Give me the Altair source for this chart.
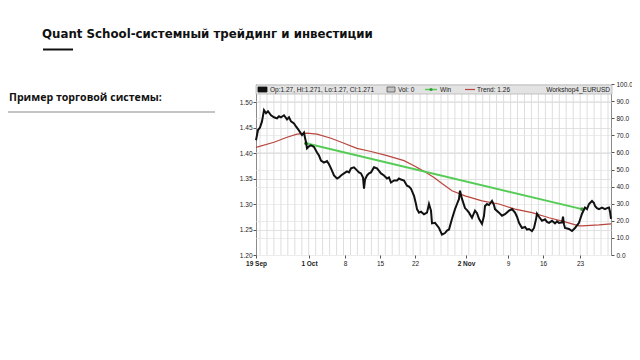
import altair as alt
import pandas as pd

title_text = "Quant School-системный трейдинг и инвестиции"
subtitle_text = "Пример торговой системы:"
legend_texts = ["Op:1.27, Hi:1.271, Lo:1.27, Cl:1.271", "Vol: 0", "Win", "Trend: 1.26", "Workshop4_EURUSD"]

# bar index (x) and EURUSD price
price_t = [0, 2, 4, 6, 8, 10, 12, 15, 18, 21, 23, 25, 28, 31, 33, 35, 38, 40, 42, 44, 46, 48, 49, 50, 51,
           53, 55, 58, 61, 63, 65, 68, 71, 73, 75, 78, 81, 83, 85, 88, 91, 93, 95, 98, 101, 103, 105, 107,
           108, 109, 111, 113, 115, 118, 121, 123, 125, 128, 131, 133, 135, 138, 141, 143, 145, 148, 151,
           153, 155, 158, 160, 161, 163, 165, 168, 171, 173, 175, 176, 179, 181, 183, 186, 189, 191, 193,
           196, 199, 201, 203, 204, 206, 209, 211, 213, 216, 219, 221, 223, 226, 228, 229, 231, 233, 236,
           238, 239, 243, 246, 249, 253, 256, 259, 261, 263, 266, 269, 271, 273, 276, 278, 280, 281, 283,
           286, 289, 291, 293, 296, 299, 301, 303, 306, 307, 308, 309, 313, 316, 319, 321, 323, 326, 329,
           331, 333, 336, 338, 339, 341, 343, 346, 349, 351, 353, 354, 355]
price_v = [1.425, 1.445, 1.450, 1.462, 1.484, 1.478, 1.482, 1.474, 1.470, 1.468, 1.472, 1.470, 1.474, 1.466,
           1.470, 1.462, 1.458, 1.452, 1.447, 1.441, 1.435, 1.440, 1.430, 1.421, 1.409,
           1.413, 1.415, 1.412, 1.401, 1.395, 1.385, 1.381, 1.384, 1.378, 1.370, 1.356, 1.350, 1.352, 1.356,
           1.360, 1.364, 1.362, 1.370, 1.372, 1.366, 1.362, 1.360, 1.352,
           1.330, 1.348, 1.356, 1.360, 1.362, 1.372, 1.370, 1.365, 1.360, 1.356, 1.350, 1.352, 1.342, 1.346,
           1.346, 1.350, 1.348, 1.346, 1.336,
           1.334, 1.330, 1.316, 1.300, 1.290, 1.283, 1.285, 1.280, 1.283, 1.300, 1.287, 1.262, 1.263, 1.258,
           1.253, 1.240, 1.243, 1.248, 1.250,
           1.271, 1.290, 1.300, 1.310, 1.326, 1.310, 1.292, 1.288, 1.283, 1.273, 1.287, 1.282, 1.271, 1.261,
           1.277, 1.296, 1.300, 1.298, 1.306,
           1.298, 1.290, 1.283, 1.277, 1.280, 1.287, 1.290, 1.283, 1.275, 1.263, 1.253, 1.255, 1.250, 1.251,
           1.247, 1.253, 1.270, 1.281, 1.275,
           1.267, 1.270, 1.265, 1.263, 1.267, 1.262, 1.266, 1.263, 1.264, 1.275, 1.260, 1.253, 1.251, 1.247,
           1.253, 1.258, 1.263, 1.281, 1.293,
           1.290, 1.300, 1.306, 1.302, 1.296, 1.292, 1.290, 1.293, 1.290, 1.292, 1.293, 1.285, 1.271]

trend_t = [0, 18, 31, 41, 51, 61, 75, 88, 101, 115, 131, 148, 158, 168, 178, 186, 196, 209, 226, 243, 259,
           276, 293, 309, 323, 326, 343, 355]
trend_v = [1.411, 1.421, 1.431, 1.437, 1.439, 1.437, 1.429, 1.419, 1.409, 1.403, 1.395, 1.385, 1.375, 1.364,
           1.352, 1.340, 1.326, 1.316, 1.306, 1.300, 1.290, 1.283, 1.273, 1.265, 1.257, 1.257, 1.259, 1.261]

win_t = [50, 326]
win_v = [1.419, 1.290]

tick_pos = [0, 53, 89, 124, 159, 210, 252, 287, 324]
tick_labels = ["19 Sep", "1 Oct", "8", "15", "22", "2 Nov", "9", "16", "23"]
price_ticks = [1.20, 1.25, 1.30, 1.35, 1.40, 1.45, 1.50]
right_ticks = [0, 10, 20, 30, 40, 50, 60, 70, 80, 90, 100]
day_lines = [round(4 + 6.96 * i, 1) for i in range(51)]

label_expr = " : ".join(f"datum.value == {p} ? '{l}'" for p, l in zip(tick_pos, tick_labels)) + " : ''"
bold_test = " || ".join(f"datum.value == {p}" for p, l in zip(tick_pos, tick_labels) if " " in l)

AX = dict(labelFont="Liberation Sans", labelFontSize=6.5, labelColor="#222", tickColor="#555",
          tickSize=3, domain=False, title=None)

X = alt.X("t:Q", scale=alt.Scale(domain=[0, 355], nice=False, zero=False),
          axis=alt.Axis(values=tick_pos, labelExpr=label_expr, grid=False, labelPadding=2,
                        labelFlush=False, labelOverlap=False,
                        labelFontWeight={"condition": {"test": bold_test, "value": "bold"}, "value": "normal"},
                        **AX))
Y = alt.Y("p:Q", scale=alt.Scale(domain=[1.20, 1.5353], nice=False, zero=False),
          axis=alt.Axis(values=price_ticks, format=".2f", grid=True, gridColor="#e2e2e2",
                        labelPadding=1, **AX))

price_df = pd.DataFrame({"t": price_t, "p": price_v})
trend_df = pd.DataFrame({"t": trend_t, "p": trend_v})
win_df = pd.DataFrame({"t": win_t, "p": win_v})
grid_df = pd.DataFrame({"t": day_lines})

grid = alt.Chart(grid_df).mark_rule(color="#dedede", strokeWidth=1).encode(x=X)
trend = alt.Chart(trend_df).mark_line(color="#b8463e", strokeWidth=1.2).encode(x=X, y=Y)
win = alt.Chart(win_df).mark_line(color="#55cc55", strokeWidth=2).encode(x=X, y=Y)
win_pts = alt.Chart(win_df).mark_point(filled=True, size=14, color="#3b9a3b", opacity=1).encode(x=X, y=Y)
price = alt.Chart(price_df).mark_line(color="#111", strokeWidth=2, strokeJoin="miter").encode(x=X, y=Y)

inner = alt.layer(grid, trend, win, win_pts, price)

right = alt.Chart(pd.DataFrame({"r": [0, 100]})).mark_point(opacity=0).encode(
    y=alt.Y("r:Q", scale=alt.Scale(domain=[0, 100], nice=False, zero=False),
            axis=alt.Axis(orient="right", values=right_ticks, format=".1f", grid=True,
                          gridColor="#ececec", labelPadding=2, **AX)))

one = pd.DataFrame({"k": [0]})


def txt(s, x, y, size, weight="normal", font="Liberation Sans", color="#222", align="left"):
    return alt.Chart(pd.DataFrame({"s": [s]})).mark_text(
        align=align, baseline="middle", font=font, fontSize=size, fontWeight=weight, color=color
    ).encode(x=alt.value(x), y=alt.value(y), text="s:N")


def hline(x1, x2, y, color, w):
    return alt.Chart(one).mark_rule(color=color, strokeWidth=w).encode(
        x=alt.value(x1), x2=alt.value(x2), y=alt.value(y))


def box(x1, x2, y1, y2, fill, stroke, sw=0.8):
    return alt.Chart(one).mark_rect(fill=fill, stroke=stroke, strokeWidth=sw).encode(
        x=alt.value(x1), x2=alt.value(x2), y=alt.value(y1), y2=alt.value(y2))


title = txt(title_text, -214, -50, 11.8, "bold", "DejaVu Sans", "#111")
title_bar = hline(-213, -183, -34.5, "#111", 2)
subtitle = txt(subtitle_text, -247, 13.5, 10.6, "bold", "Open Sans", "#111")
sub_line = hline(-254, -41, 28, "#8a8a8a", 1.2)

header = box(0, 356, 1, 10, "#e3e3e3", "#b5b5b5")
icon_op = box(2, 11, 3, 8, "#111", "#111")
icon_vol = box(131, 139, 3, 8, "#c4c4c4", "#555")
icon_win = hline(169, 181, 5.5, "#55cc55", 1.5)
icon_win_dot = alt.Chart(one).mark_point(filled=True, size=10, color="#3b9a3b", opacity=1).encode(
    x=alt.value(175), y=alt.value(5.5))
icon_trend = hline(209, 219, 5.5, "#b8463e", 1.2)
t_op = txt(legend_texts[0], 14, 5.5, 6.5)
t_vol = txt(legend_texts[1], 142, 5.5, 6.5)
t_win = txt(legend_texts[2], 184, 5.5, 6.5)
t_trend = txt(legend_texts[3], 221, 5.5, 6.5)
t_ws = txt(legend_texts[4], 354, 5.5, 6.5, align="right")

chart = alt.layer(
    inner, right,
    header, icon_op, icon_vol, icon_win, icon_win_dot, icon_trend,
    t_op, t_vol, t_win, t_trend, t_ws,
    title, title_bar, subtitle, sub_line,
).resolve_scale(y="independent").properties(
    width=355, height=171,
    padding={"left": 248, "top": 76, "right": 21, "bottom": 94},
    autosize=alt.AutoSizeParams(type="none"),
    background="white",
).configure_view(stroke="#8a8a8a", strokeWidth=1)

chart.save("out.html", embed_options={"renderer": "svg", "actions": False})
